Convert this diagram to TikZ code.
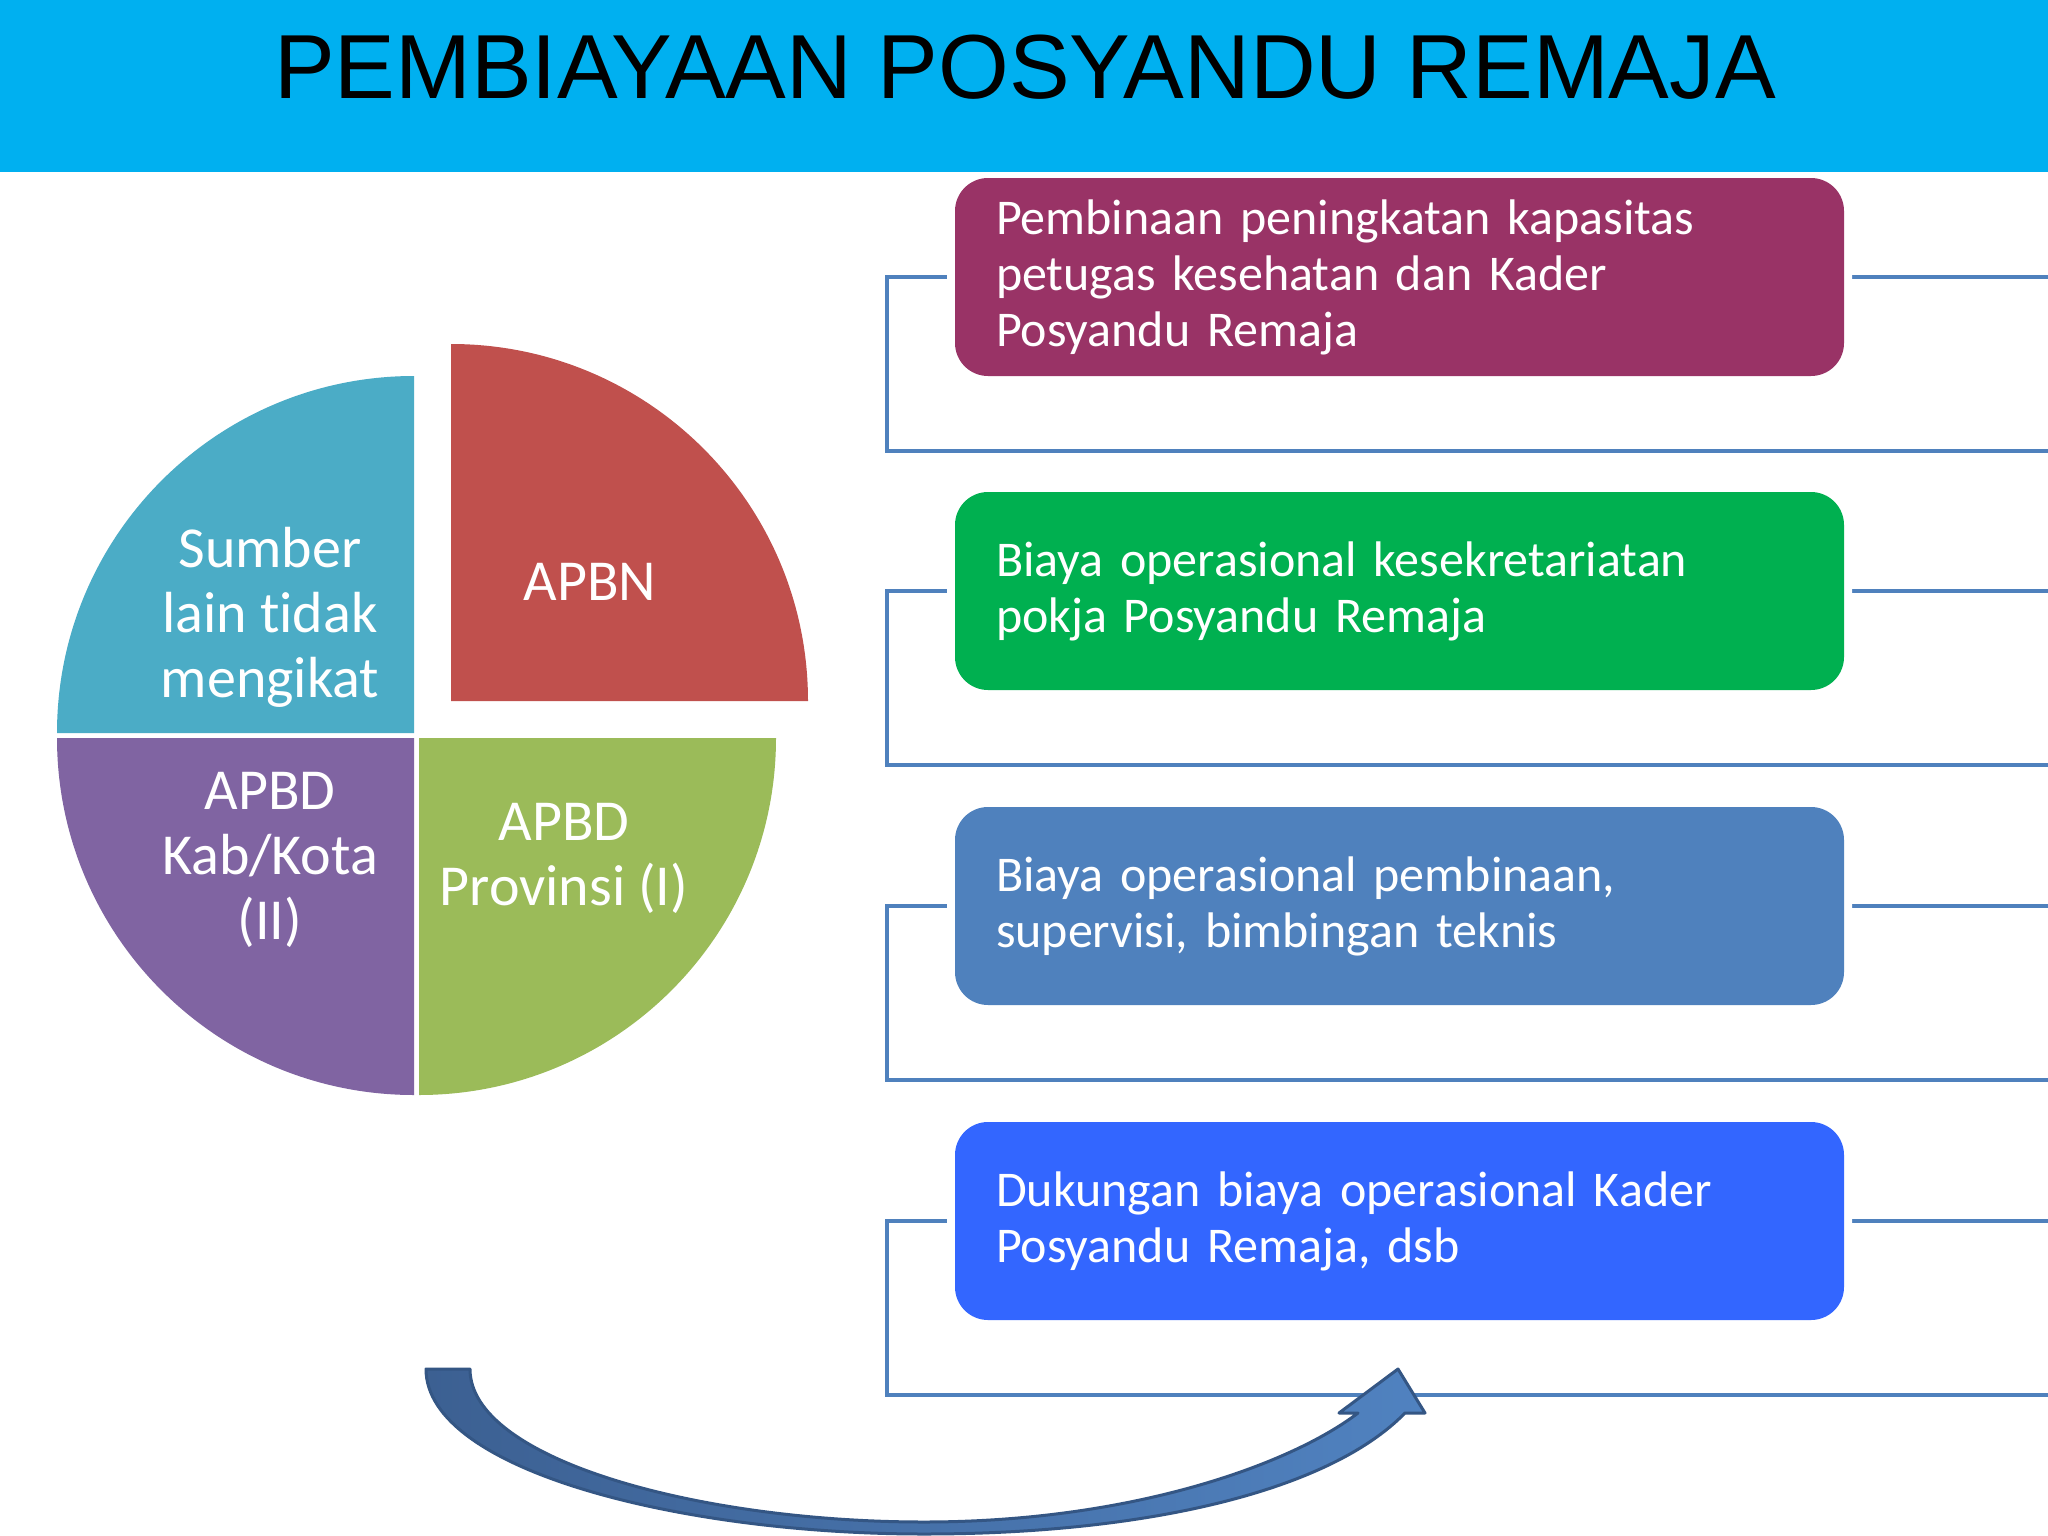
\documentclass[tikz,border=0pt]{standalone}
\usepackage{fontspec}
\setmainfont[Ligatures=NoCommon]{Carlito}
\newfontfamily\titlefont{Liberation Sans}
\definecolor{headerblue}{RGB}{0,176,240}
\definecolor{teal}{RGB}{75,172,198}
\definecolor{pred}{RGB}{192,80,77}
\definecolor{ppurple}{RGB}{128,100,162}
\definecolor{pgreen}{RGB}{155,187,89}
\definecolor{boxA}{RGB}{153,51,102}
\definecolor{boxB}{RGB}{0,176,80}
\definecolor{boxC}{RGB}{79,129,189}
\definecolor{boxD}{RGB}{51,102,255}
\definecolor{lineblue}{RGB}{79,129,189}
\definecolor{arrowdark}{RGB}{60,96,146}
\definecolor{arrowlight}{RGB}{80,130,192}
\definecolor{arrowline}{RGB}{52,86,132}
\begin{document}
\begin{tikzpicture}[x=1pt,y=-1pt,
  pietext/.style={text=white, font=\fontsize{58}{65}\selectfont, align=center, inner sep=0pt},
  fundbox/.style={rounded corners=33pt, minimum width=889pt, minimum height=198pt,
    text width=807pt, inner xsep=41pt, inner ysep=0pt, align=left, text=white,
    font=\fontsize{50}{56}\selectfont, preaction={draw=white, line width=16pt}},
  bracket/.style={draw=lineblue, line width=4pt},
  slice/.style={draw=none}]
\useasboundingbox (0,0) rectangle (2048,1536);
\clip (0,0) rectangle (2048,1536);
\fill[white] (0,0) rectangle (2048,1536);
% pie
\fill[teal] (414,733) -- ++(0,-357) arc[start angle=270, end angle=180, radius=357] -- cycle;
\fill[pred] (451,701) -- ++(0,-357) arc[start angle=270, end angle=360, radius=357] -- cycle;
\fill[ppurple] (414,738) -- ++(-357,0) arc[start angle=180, end angle=90, radius=357] -- cycle;
\fill[pgreen] (419,738) -- ++(357,0) arc[start angle=0, end angle=90, radius=357] -- cycle;
\node[pietext] (sumber) at (270,617) {Sumber\\lain tidak\\mengikat};
\node[pietext] (apbn) at (590,582) {APBN};
\node[pietext] (kab) at (270,860) {APBD\\Kab/Kota\\(II)};
\node[pietext] (prov) at (564,858) {APBD\\Provinsi (I)};
% brackets
\foreach \i/\m in {1/277,2/591,3/906,4/1221}{
  \coordinate (ra\i) at (2052,\m);
  \coordinate (la\i) at (887,\m);
  \coordinate (lb\i) at (887,\m+174);
  \coordinate (rb\i) at (2052,\m+174);
  \draw[bracket] (ra\i) -- (la\i) -- (lb\i) -- (rb\i);
}
% boxes
\node[fundbox, fill=boxA] (b1) at (1399.5,277) {Pembinaan peningkatan kapasitas\\petugas kesehatan dan Kader\\Posyandu Remaja};
\node[fundbox, fill=boxB] (b2) at (1399.5,591) {Biaya operasional kesekretariatan\\pokja Posyandu Remaja};
\node[fundbox, fill=boxC] (b3) at (1399.5,906) {Biaya operasional pembinaan,\\supervisi, bimbingan teknis};
\node[fundbox, fill=boxD] (b4) at (1399.5,1221) {Dukungan biaya operasional Kader\\Posyandu Remaja, dsb};
% header
\fill[headerblue] (0,0) rectangle (2048,172);
\node[anchor=base, inner sep=0pt, font=\titlefont\fontsize{91}{100}\selectfont] (title) at (1025,99) {PEMBIAYAAN POSYANDU REMAJA};
% curved arrow
\path[draw=arrowline, line width=3pt, line join=round, left color=arrowdark, right color=arrowlight]
  (426,1369) .. controls (426,1470) and (680,1534) .. (924,1534)
  .. controls (1150,1534) and (1330,1490) .. (1405,1413)
  -- (1425,1413) -- (1398,1369) -- (1339,1413) -- (1358,1413)
  .. controls (1290,1465) and (1130,1522) .. (924,1522)
  .. controls (700,1522) and (470,1460) .. (470,1369) -- cycle;
\end{tikzpicture}
\end{document}
